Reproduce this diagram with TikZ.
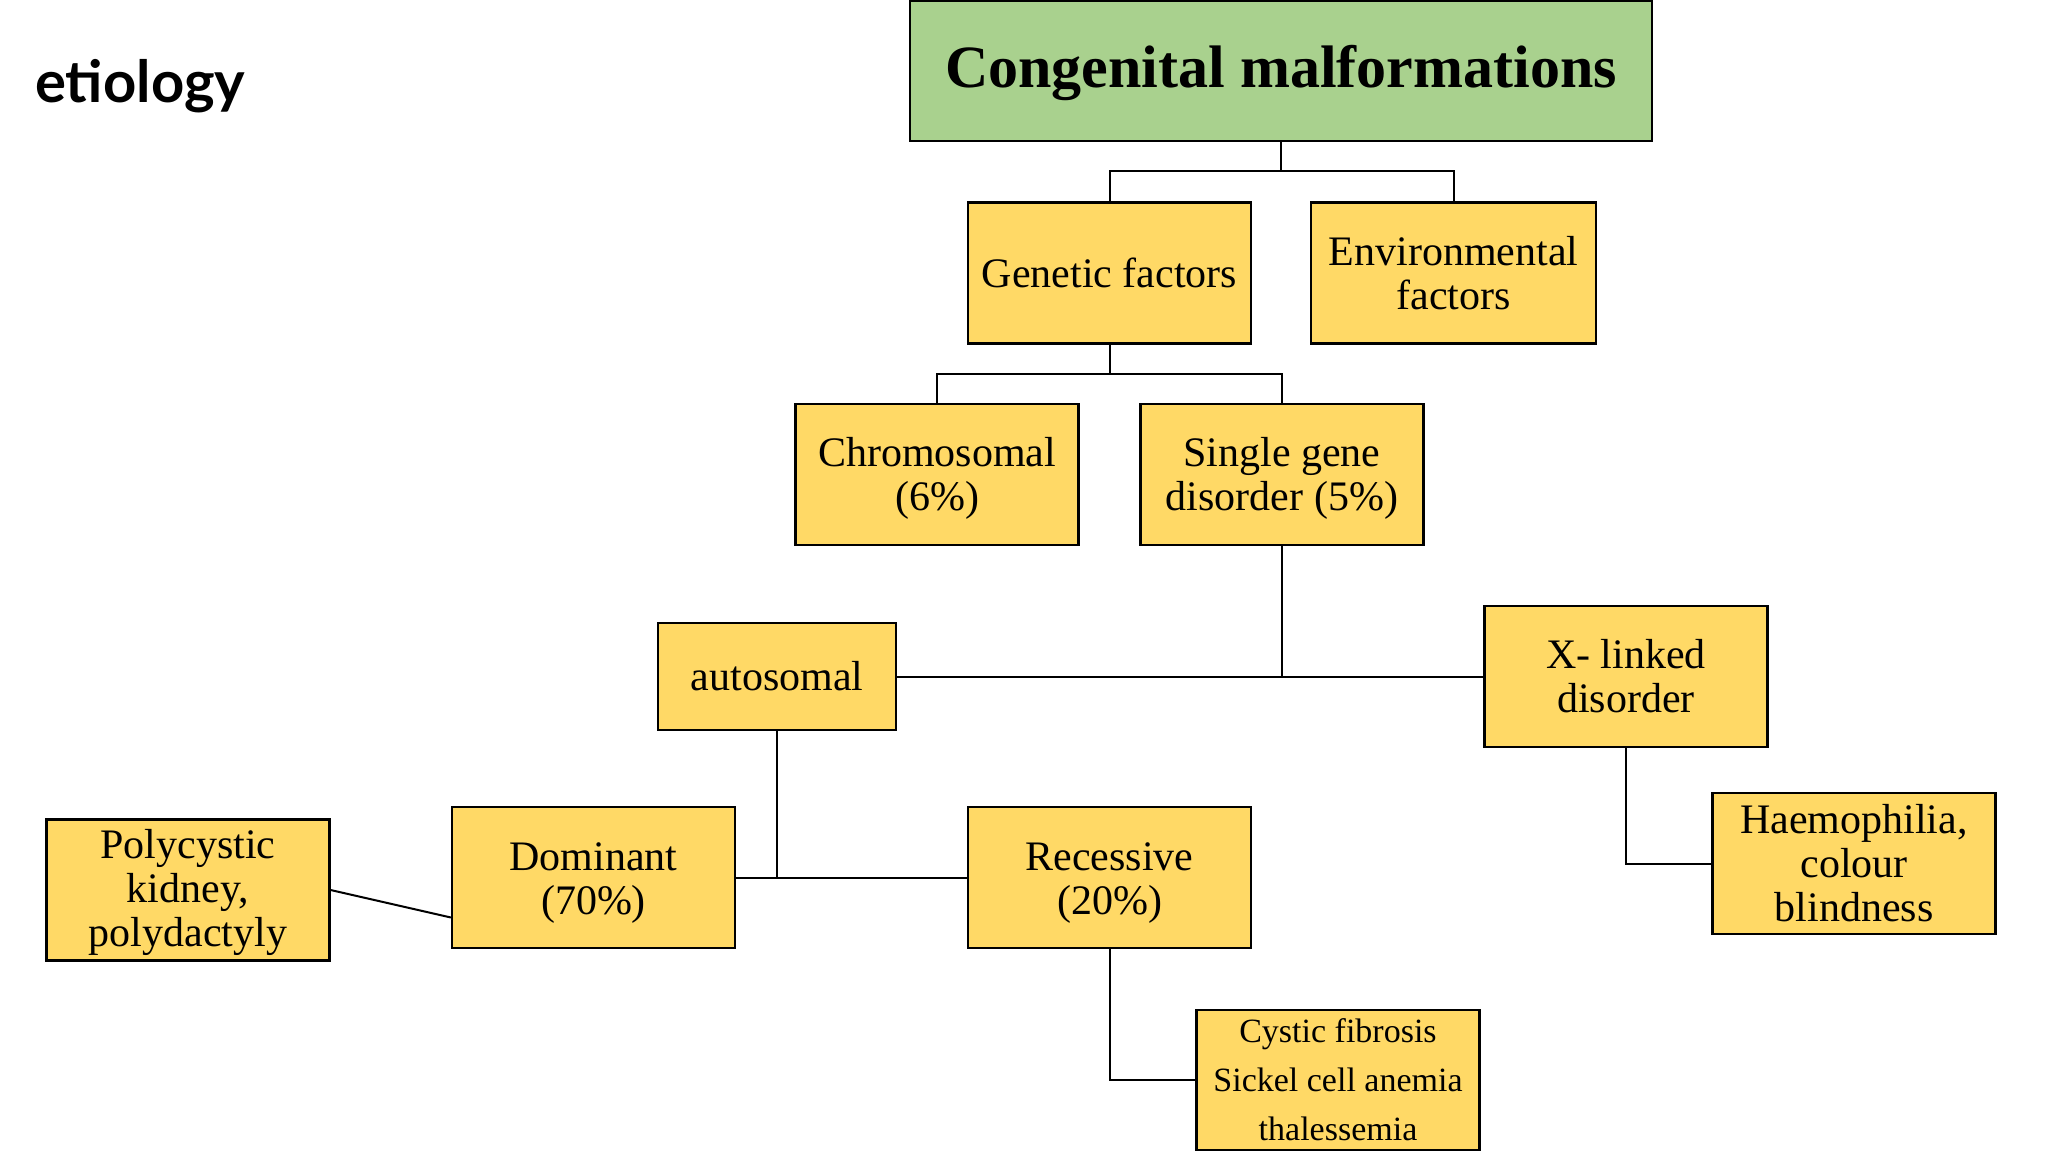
\documentclass[tikz,border=0pt]{standalone}
\usepackage{fontspec}
\setmainfont{Liberation Serif}
\newfontfamily\etfont{Lato}
\definecolor{boxyellow}{HTML}{FFD966}
\definecolor{boxgreen}{HTML}{A9D18E}
\newcommand\topstrut[1]{\rule{0pt}{#1}}
\begin{document}
\begin{tikzpicture}[x=1pt,y=-1pt,
  box/.style={draw=black, line width=2.2pt, fill=boxyellow, align=center, inner sep=0pt,
    minimum width=283pt, minimum height=141pt, font=\fontsize{42}{44}\selectfont},
  conn/.style={draw=black, line width=2pt}]
\useasboundingbox (0,0) rectangle (2048,1152);
\fill[white] (0,0) rectangle (2048,1152);

\node[anchor=base west, font=\etfont\bfseries\fontsize{58}{60}\selectfont, inner sep=0pt] (etio) at (35,102) {etiology};

\node[box, fill=boxgreen, minimum width=742pt, minimum height=140pt,
  font=\bfseries\fontsize{60}{64}\selectfont] (title) at (1281,71) {\topstrut{47pt}Congenital malformations};

\node[box] (genetic) at (1109.5,273) {Genetic factors};
\node[box, minimum width=285pt] (env) at (1453.5,273) {Environmental\\factors};
\node[box] (chromo) at (937,474.5) {\topstrut{36.5pt}Chromosomal\\(6\%)};
\node[box] (single) at (1282,474.5) {\topstrut{36.5pt}Single gene\\disorder (5\%)};
\node[box, minimum width=238pt, minimum height=107pt] (autosomal) at (777,676.5) {autosomal};
\node[box] (xlinked) at (1626,676.5) {X- linked\\disorder};
\node[box] (dominant) at (593.5,877.5) {\topstrut{38.5pt}Dominant\\(70\%)};
\node[box] (recessive) at (1109.5,877.5) {\topstrut{38.5pt}Recessive\\(20\%)};
\node[box] (polycystic) at (188,890) {\topstrut{34.5pt}Polycystic\\kidney,\\polydactyly};
\node[box] (haemo) at (1854,863.5) {Haemophilia,\\colour\\blindness};
\node[box, minimum height=140pt, font=\fontsize{34}{49}\selectfont] (cystic) at (1338,1080) {Cystic fibrosis\\Sickel cell anemia\\thalessemia};

\coordinate (j1) at (1281,171);
\coordinate (j2) at (1109.5,374);

\draw[conn] (title.south) -- (j1);
\draw[conn] (genetic.north) |- (j1) -| (env.north);
\draw[conn] (genetic.south) -- (j2);
\draw[conn] (chromo.north) |- (j2) -| (single.north);
\draw[conn] (single.south) -- (single.south |- autosomal.east);
\draw[conn] (autosomal.east) -- (xlinked.west);
\draw[conn] (autosomal.south) -- (autosomal.south |- dominant.east);
\draw[conn] (dominant.east) -- (recessive.west);
\draw[conn] (polycystic.east) -- ([yshift=-40pt]dominant.west);
\draw[conn] (xlinked.south) |- (haemo.west);
\draw[conn] (recessive.south) |- (cystic.west);
\end{tikzpicture}
\end{document}
